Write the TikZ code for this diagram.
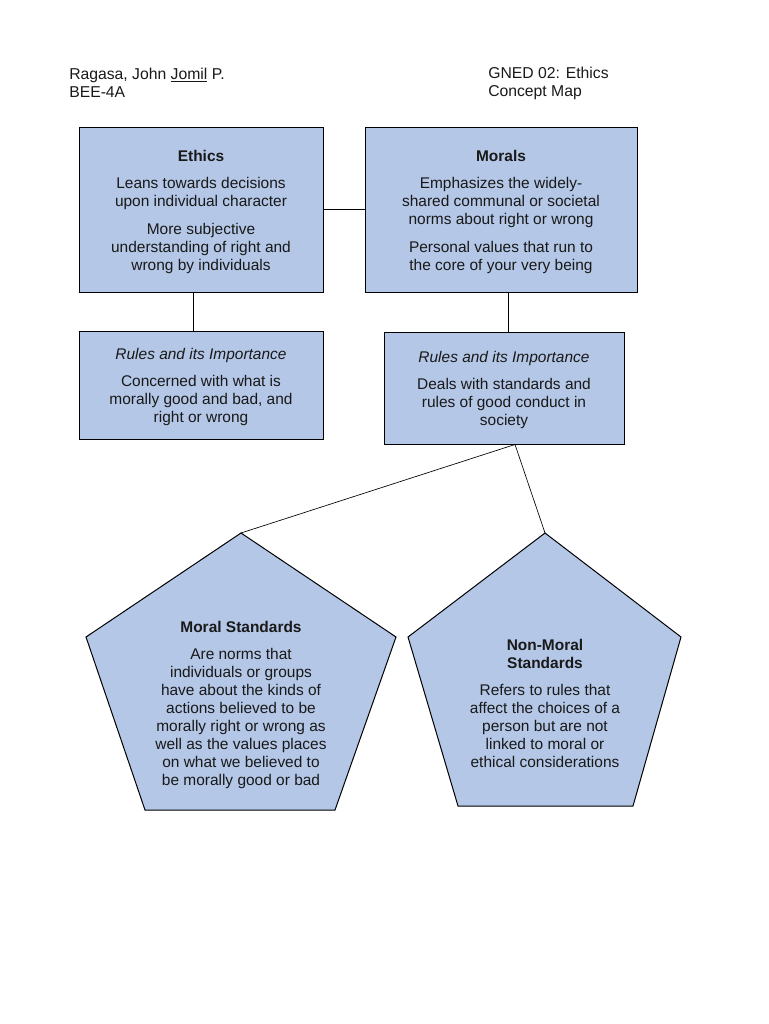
\documentclass[tikz,border=0pt]{standalone}
\usepackage{fontspec}
\setmainfont{Liberation Sans}
\definecolor{boxblue}{RGB}{180,199,231}
\definecolor{inkgrey}{RGB}{25,25,25}
\newcommand{\lift}{\rule{0pt}{12pt}}
\begin{document}
\begin{tikzpicture}[x=0.75pt, y=-0.75pt,
        box/.style={draw=black, line width=0.75pt, fill=boxblue, text=inkgrey, align=center, inner sep=0pt, font=\fontsize{11.6}{13.5}\selectfont},
        penta/.style={draw=black, line width=0.75pt, fill=boxblue},
        txt/.style={align=center, text=inkgrey, inner sep=0pt, font=\fontsize{11.6}{13.5}\selectfont},
        head/.style={anchor=west, align=left, text=inkgrey, inner sep=0pt, font=\fontsize{11.8}{13.5}\selectfont},
        link/.style={draw=black, line width=0.5pt}
    ]
    \useasboundingbox (0,0) rectangle (768,1024);
    % Header
    \node[head] (name) at (69,83) {Ragasa, John \underline{Jomil} P.\\BEE-4A};
    \node[head] (course) at (488,83) {GNED 02: Ethics\\Concept Map};
    % Boxes
    \node[box, minimum width=183pt, minimum height=123.75pt] (ethics) at (201,209.5)
        {\lift\textbf{Ethics}\\[6.75pt]Leans towards decisions\\upon individual character\\[7.5pt]More subjective\\understanding of right and\\wrong by individuals};
    \node[box, minimum width=204pt, minimum height=123.75pt] (morals) at (501,209.5)
        {\lift\textbf{Morals}\\[6.75pt]Emphasizes the widely-\\shared communal or societal\\norms about right or wrong\\[7.5pt]Personal values that run to\\the core of your very being};
    \node[box, minimum width=183pt, minimum height=81pt] (ruleE) at (201,385)
        {\lift\textit{Rules and its Importance}\\[6.75pt]Concerned with what is\\morally good and bad, and\\right or wrong};
    \node[box, minimum width=180pt, minimum height=84pt] (ruleM) at (504,388)
        {\lift\textit{Rules and its Importance}\\[6.75pt]Deals with standards and\\rules of good conduct in\\society};
    % Pentagons
    \draw[penta] (241,533) -- (396,637) -- (335,810) -- (145,810) -- (86,637) -- cycle;
    \draw[penta] (545,533) -- (681,637) -- (633,806) -- (458,806) -- (408,637) -- cycle;
    \coordinate (moraltop) at (241,533);
    \coordinate (nonmoraltop) at (545,533);
    \node[txt] (moral) at (241,705)
        {\textbf{Moral Standards}\\[6.75pt]Are norms that\\individuals or groups\\have about the kinds of\\actions believed to be\\morally right or wrong as\\well as the values places\\on what we believed to\\be morally good or bad};
    \node[txt] (nonmoral) at (545,703)
        {\textbf{Non-Moral}\\\textbf{Standards}\\[6.75pt]Refers to rules that\\affect the choices of a\\person but are not\\linked to moral or\\ethical considerations};
    % Edges
    \draw[link] (ethics.east) -- (morals.west);
    \draw[link] ([xshift=-6pt]ethics.south) -- ([xshift=-6pt]ruleE.north);
    \draw[link] ([xshift=5.25pt]morals.south) -- ([xshift=3pt]ruleM.north);
    \draw[link] ([xshift=8.25pt]ruleM.south) -- (moraltop);
    \draw[link] ([xshift=8.25pt]ruleM.south) -- (nonmoraltop);
\end{tikzpicture}
\end{document}
